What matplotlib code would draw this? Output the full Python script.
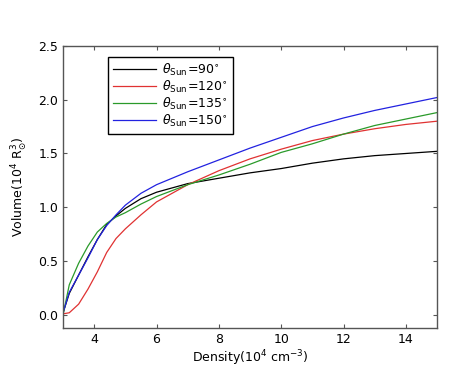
import matplotlib
matplotlib.use("Agg")
import matplotlib.pyplot as plt

# density (10^4 cm^-3)
density = [3.0, 3.2, 3.5, 3.8, 4.1, 4.4, 4.7, 5.0, 5.5, 6.0,
           7.0, 8.0, 9.0, 10.0, 11.0, 12.0, 13.0, 14.0, 15.0]

# volume (10^4 R_sun^3) for each theta_Sun
vol_90 = [0.02, 0.20, 0.37, 0.54, 0.70, 0.84, 0.92, 0.99, 1.08, 1.14,
          1.22, 1.27, 1.32, 1.36, 1.41, 1.45, 1.48, 1.50, 1.52]
vol_120 = [0.01, 0.02, 0.10, 0.24, 0.40, 0.58, 0.71, 0.80, 0.93, 1.05,
           1.21, 1.34, 1.45, 1.54, 1.62, 1.68, 1.73, 1.77, 1.80]
vol_135 = [0.0, 0.28, 0.48, 0.64, 0.77, 0.85, 0.91, 0.95, 1.03, 1.10,
           1.21, 1.30, 1.40, 1.51, 1.59, 1.68, 1.76, 1.82, 1.88]
vol_150 = [0.02, 0.21, 0.37, 0.53, 0.70, 0.83, 0.93, 1.02, 1.13, 1.21,
           1.33, 1.44, 1.55, 1.65, 1.75, 1.83, 1.90, 1.96, 2.02]

series = [
    (vol_90, "#000000", r"$\theta_{\rm Sun}\!=\!90^{\circ}$"),
    (vol_120, "#e03232", r"$\theta_{\rm Sun}\!=\!120^{\circ}$"),
    (vol_135, "#2a9a2a", r"$\theta_{\rm Sun}\!=\!135^{\circ}$"),
    (vol_150, "#2222e0", r"$\theta_{\rm Sun}\!=\!150^{\circ}$"),
]

fig = plt.figure(figsize=(4.74, 3.79), dpi=100)
ax = fig.add_axes([0.133, 0.135, 0.789, 0.744])

for vals, color, label in series:
    ax.plot(density, vals, "-", color=color, linewidth=0.9, label=label)

ax.set_xlim(3, 15)
ax.set_ylim(-0.12, 2.5)
ax.set_xticks([4, 6, 8, 10, 12, 14])
ax.set_yticks([0.0, 0.5, 1.0, 1.5, 2.0, 2.5])
ax.set_yticklabels(["0.0", "0.5", "1.0", "1.5", "2.0", "2.5"])
ax.tick_params(direction="in", top=True, right=True, length=3,
               labelsize=9, color="#555555")
for sp in ax.spines.values():
    sp.set_color("#555555")
    sp.set_linewidth(1.0)

ax.set_xlabel(r"Density(10$^4$ cm$^{-3}$)", fontsize=9, labelpad=2)
ax.set_ylabel(r"Volume(10$^4$ R$_{\odot}^3$)", fontsize=9, labelpad=6)

leg = ax.legend(loc="upper left", bbox_to_anchor=(0.121, 0.962), fontsize=9,
                fancybox=False, framealpha=1, edgecolor="black",
                handlelength=3.4, handletextpad=0.5, borderpad=0.4,
                labelspacing=0.08, borderaxespad=0)
leg.get_frame().set_linewidth(1.0)

fig.savefig("out.png", dpi=100)
